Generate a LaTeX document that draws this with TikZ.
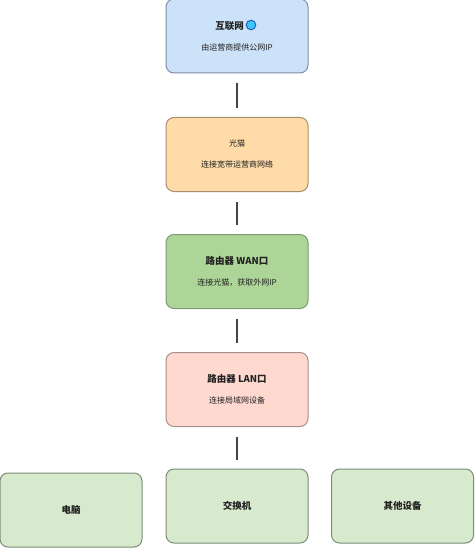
\documentclass[tikz,border=0pt]{standalone}
\usepackage{fontspec}
\setmainfont{Noto Sans CJK SC}
\definecolor{bluefill}{HTML}{CCE2F8}
\definecolor{bluedraw}{HTML}{7D8FA6}
\definecolor{orangefill}{HTML}{FEDBA8}
\definecolor{orangedraw}{HTML}{A8906A}
\definecolor{greenfill}{HTML}{ACD597}
\definecolor{greendraw}{HTML}{7F9A70}
\definecolor{redfill}{HTML}{FFD9D0}
\definecolor{reddraw}{HTML}{A8918C}
\definecolor{lgreenfill}{HTML}{D7EACE}
\definecolor{lgreendraw}{HTML}{7E8C78}
\definecolor{linecol}{HTML}{444444}
\definecolor{iconfill}{HTML}{3CC8F5}
\definecolor{icondraw}{HTML}{2060C0}
\definecolor{txt}{HTML}{222222}
\tikzset{
  box/.style={draw, line width=1pt, rounded corners=8pt, minimum width=142pt,
    minimum height=74pt, align=center, inner sep=0pt, text=txt,
    font=\fontsize{8}{21}\selectfont},
  conn/.style={draw=linecol, line width=2.5pt, shorten <=10pt, shorten >=9pt},
}
\newcommand{\ttl}[1]{{\bfseries\fontsize{9.5}{21}\selectfont #1}}
\begin{document}
\begin{tikzpicture}[x=1pt,y=-1pt]
\useasboundingbox (0,0) rectangle (474,548);
\node[box, fill=bluefill, draw=bluedraw] (inet) at (237,36) {\ttl{互联网\hspace*{15pt}}\\由运营商提供公网IP};
\node[circle, draw=icondraw, fill=iconfill, line width=1pt, minimum size=9.5pt, inner sep=0pt] (icon) at (251,25) {};
\node[box, fill=orangefill, draw=orangedraw] (modem) at (237,154.5) {光猫\\连接宽带运营商网络};
\node[box, fill=greenfill, draw=greendraw] (wan) at (237,271.5) {\ttl{路由器 WAN口}\\连接光猫，获取外网IP};
\node[box, fill=redfill, draw=reddraw] (lan) at (237,389.5) {\ttl{路由器 LAN口}\\连接局域网设备};
\node[box, fill=lgreenfill, draw=lgreendraw] (pc) at (71,510) {\ttl{电脑}};
\node[box, fill=lgreenfill, draw=lgreendraw] (sw) at (237,506) {\ttl{交换机}};
\node[box, fill=lgreenfill, draw=lgreendraw] (other) at (402.5,506) {\ttl{其他设备}};
\draw[conn] (inet) -- (modem);
\draw[conn] (modem) -- (wan);
\draw[conn] (wan) -- (lan);
\draw[conn] (lan) -- (sw);
\end{tikzpicture}
\end{document}
